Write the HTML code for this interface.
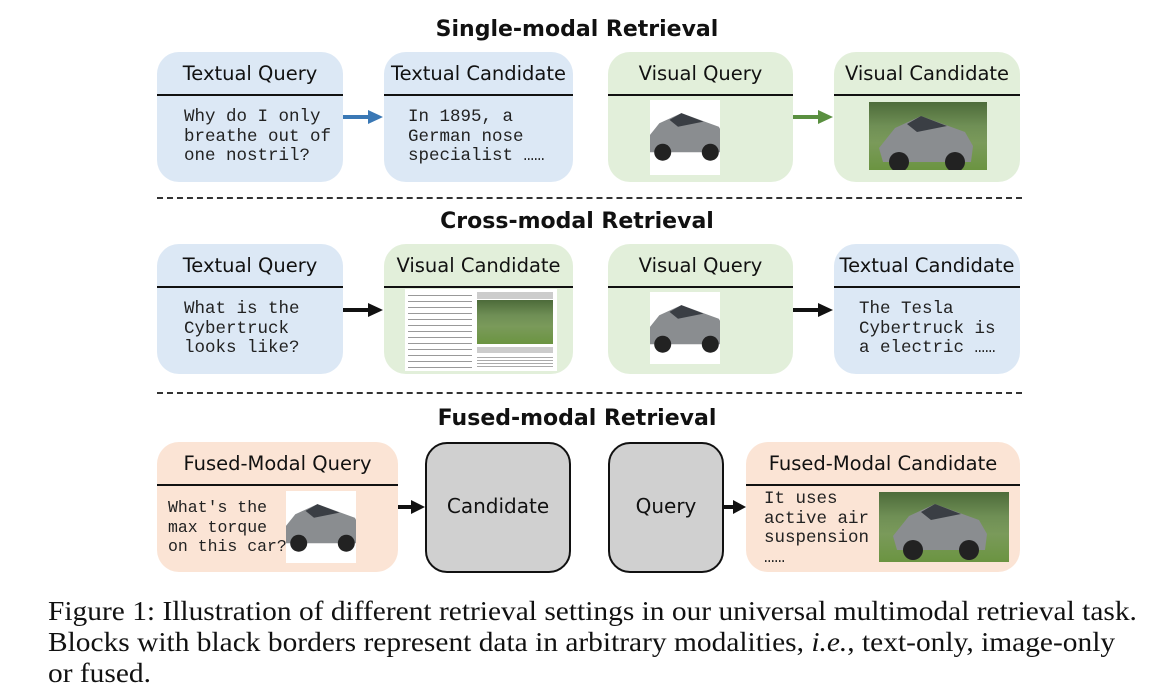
<!DOCTYPE html>
<html><head><meta charset="utf-8"><style>
body{margin:0;width:1150px;height:690px;background:#fff;position:relative;overflow:hidden;font-family:"DejaVu Sans","Liberation Sans",sans-serif;}
.t{position:absolute;font-weight:bold;font-size:22px;color:#111;text-align:center;width:1150px;left:0;}
.box{position:absolute;border-radius:22px;}
.blue{background:#dce8f5}.green{background:#e2efda}.peach{background:#fbe4d5}
.hd{position:absolute;left:0;right:0;top:0;height:42px;border-bottom:2px solid #111;text-align:center;font-size:19.5px;line-height:44px;color:#111;}
.mono{position:absolute;font-family:"Liberation Mono","DejaVu Sans Mono",monospace;font-size:17.5px;line-height:19.5px;color:#222;white-space:pre;}
.dash{position:absolute;left:157px;width:865px;border-top:2px dashed #333;}
.gray{position:absolute;background:#d0d0d0;border:2px solid #111;border-radius:22px;text-align:center;font-size:20px;color:#111;}
.cap{position:absolute;left:48px;font-family:"Liberation Serif",serif;font-size:27px;color:#111;white-space:nowrap;transform-origin:left top;transform:scaleX(1.09);}
.photo{position:absolute;background:linear-gradient(#4d6b3a 0%,#6f8f55 35%,#7a9a5a 60%,#6b9441 100%);overflow:hidden}
.studio{position:absolute;background:#fff;overflow:hidden}
</style></head><body>
<div class="t" style="top:17px;left:2px">Single-modal Retrieval</div>
<div class="t" style="top:209px;left:2px">Cross-modal Retrieval</div>
<div class="t" style="top:406px;left:2px">Fused-modal Retrieval</div>
<div class="dash" style="top:197px"></div>
<div class="dash" style="top:392px"></div>

<svg width="1150" height="690" style="position:absolute;left:0;top:0" >
<defs>
<g id="car"><polygon points="2,38 18,18 44,6 88,22 96,36 94,52 6,52" fill="#8a8d90"/><polygon points="30,14 44,6 70,16 40,22" fill="#3a3e44"/><circle cx="22" cy="52" r="10" fill="#222"/><circle cx="78" cy="52" r="10" fill="#222"/></g>
</defs>
<g fill="none" stroke-width="4">
<line x1="343" y1="117" x2="370" y2="117" stroke="#3a78b5"/>
<line x1="793" y1="117" x2="820" y2="117" stroke="#5a9040"/>
<line x1="343" y1="310" x2="370" y2="310" stroke="#111"/>
<line x1="793" y1="310" x2="820" y2="310" stroke="#111"/>
<line x1="398" y1="507" x2="413" y2="507" stroke="#111"/>
<line x1="722" y1="507" x2="735" y2="507" stroke="#111"/>
</g>
<polygon points="368,110 383,117 368,124" fill="#3a78b5"/>
<polygon points="818,110 833,117 818,124" fill="#5a9040"/>
<polygon points="368,303 383,310 368,317" fill="#111"/>
<polygon points="818,303 833,310 818,317" fill="#111"/>
<polygon points="411,500 425,507 411,514" fill="#111"/>
<polygon points="733,500 746,507 733,514" fill="#111"/>
</svg>

<!-- row 1 -->
<div class="box blue" style="left:157px;top:52px;width:186px;height:130px"><div class="hd">Textual Query</div><div class="mono" style="left:27px;top:56px">Why do I only
breathe out of
one nostril?</div></div>
<div class="box blue" style="left:384px;top:52px;width:189px;height:130px"><div class="hd">Textual Candidate</div><div class="mono" style="left:24px;top:56px">In 1895, a
German nose
specialist ……</div></div>
<div class="box green" style="left:608px;top:52px;width:185px;height:130px"><div class="hd">Visual Query</div>
<div class="studio" style="left:42px;top:48px;width:70px;height:75px"><svg width="70" height="75"><g transform="translate(-6,8) scale(0.85)"><use href="#car"/></g></svg></div></div>
<div class="box green" style="left:834px;top:52px;width:186px;height:130px"><div class="hd">Visual Candidate</div>
<div class="photo" style="left:35px;top:50px;width:118px;height:68px"><svg width="118" height="68"><g transform="translate(8,8)"><use href="#car"/></g></svg></div></div>

<!-- row 2 -->
<div class="box blue" style="left:157px;top:244px;width:186px;height:130px"><div class="hd">Textual Query</div><div class="mono" style="left:27px;top:56px">What is the
Cybertruck
looks like?</div></div>
<div class="box green" style="left:384px;top:244px;width:189px;height:130px"><div class="hd">Visual Candidate</div>
<div style="position:absolute;left:21px;top:45px;width:152px;height:82px;background:#fff">
<div style="position:absolute;left:3px;top:3px;width:64px;height:76px;background:repeating-linear-gradient(#fff 0 3px,#999 3px 4px,#fff 4px 6px)"></div>
<div style="position:absolute;left:72px;top:3px;width:76px;height:7px;background:#ccc"></div>
<div class="photo" style="left:72px;top:11px;width:76px;height:44px"></div>
<div style="position:absolute;left:72px;top:58px;width:76px;height:6px;background:#ccc"></div>
<div style="position:absolute;left:72px;top:66px;width:76px;height:12px;background:repeating-linear-gradient(#fff 0 2px,#aaa 2px 3px)"></div>
</div></div>
<div class="box green" style="left:608px;top:244px;width:185px;height:130px"><div class="hd">Visual Query</div>
<div class="studio" style="left:42px;top:48px;width:70px;height:72px"><svg width="70" height="72"><g transform="translate(-6,8) scale(0.85)"><use href="#car"/></g></svg></div></div>
<div class="box blue" style="left:834px;top:244px;width:186px;height:130px"><div class="hd">Textual Candidate</div><div class="mono" style="left:25px;top:56px">The Tesla
Cybertruck is
a electric ……</div></div>

<!-- row 3 -->
<div class="box peach" style="left:157px;top:442px;width:241px;height:130px"><div class="hd">Fused-Modal Query</div><div class="mono" style="left:11px;top:56px;font-size:16.5px">What's the
max torque
on this car?</div>
<div class="studio" style="left:129px;top:49px;width:70px;height:72px"><svg width="70" height="72"><g transform="translate(-6,8) scale(0.85)"><use href="#car"/></g></svg></div></div>
<div class="gray" style="left:425px;top:442px;width:142px;height:127px;line-height:125px">Candidate</div>
<div class="gray" style="left:608px;top:442px;width:112px;height:127px;line-height:125px">Query</div>
<div class="box peach" style="left:746px;top:442px;width:274px;height:130px"><div class="hd">Fused-Modal Candidate</div><div class="mono" style="left:18px;top:48px">It uses
active air
suspension
……</div>
<div class="photo" style="left:133px;top:50px;width:130px;height:70px"><svg width="130" height="70"><g transform="translate(12,6)"><use href="#car"/></g></svg></div></div>

<div class="cap" style="top:596px">Figure 1: Illustration of different retrieval settings in our universal multimodal retrieval task.</div>
<div class="cap" style="top:627px">Blocks with black borders represent data in arbitrary modalities, <i>i.e.</i>, text-only, image-only</div>
<div class="cap" style="top:658px">or fused.</div>
</body></html>
